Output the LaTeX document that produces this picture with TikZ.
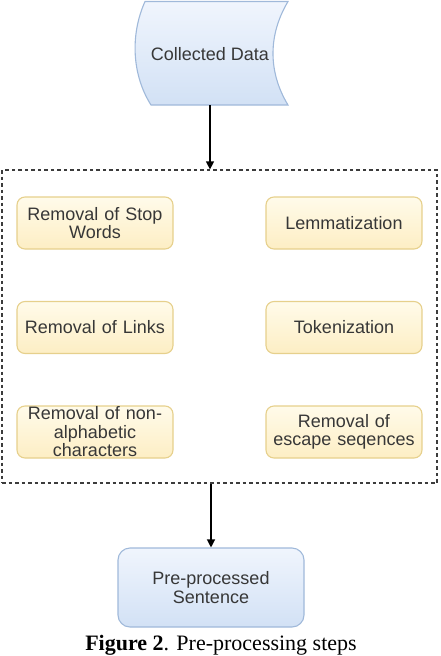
\documentclass[tikz,border=0pt]{standalone}
\usepackage{fontspec}
\setmainfont{Liberation Serif}
\newfontfamily\diafont{Liberation Sans}
\usetikzlibrary{arrows.meta}
\definecolor{txtgray}{RGB}{55,55,55}
\definecolor{bluetop}{RGB}{240,245,253}
\definecolor{bluebot}{RGB}{210,225,245}
\definecolor{bluestroke}{RGB}{160,185,218}
\definecolor{yeltop}{RGB}{255,251,234}
\definecolor{yelbot}{RGB}{253,238,196}
\definecolor{yelstroke}{RGB}{230,208,140}
\definecolor{framegray}{RGB}{60,60,60}
\tikzset{
  diatext/.style={font=\diafont\fontsize{18}{18.5}\selectfont, text=txtgray, align=center},
  stepbox/.style={diatext, draw=yelstroke, line width=1.1pt, rounded corners=8pt,
    top color=yeltop, bottom color=yelbot, minimum width=156pt, minimum height=52pt,
    inner sep=0pt, text width=154pt},
  endbox/.style={diatext, draw=bluestroke, line width=1.1pt, rounded corners=12pt,
    top color=bluetop, bottom color=bluebot, minimum width=186pt, minimum height=79pt,
    inner sep=0pt},
  framebox/.style={draw=framegray, dashed, dash pattern=on 3.5pt off 3pt, line width=1.2pt,
    minimum width=435pt, minimum height=313pt, inner sep=0pt},
  flow/.style={-{Triangle[width=8pt,length=8pt]}, line width=1.2pt, black},
}
\begin{document}
\begin{tikzpicture}[x=1pt,y=-1pt]
\useasboundingbox (0,0) rectangle (440,656);
% Collected Data shape
\shade[top color=bluetop, bottom color=bluebot, draw=bluestroke, line width=1.1pt]
  (145,1.5) .. controls (130,35) and (132,75) .. (151,105)
  -- (288,105) .. controls (268,72) and (268,35) .. (288,1.5) -- cycle;
\node[diatext] (cd) at (210,54) {Collected Data};
\coordinate (cdb) at (210,105);
% frame
\node[framebox] (frame) at (219.5,326.5) {};
% step boxes
\node[stepbox] (stop) at (95,223) {Removal of Stop\\Words};
\node[stepbox] (lem) at (344,223) {Lemmatization};
\node[stepbox] (links) at (95,327.5) {Removal of Links};
\node[stepbox] (tok) at (344,327.5) {Tokenization};
\node[stepbox] (nonalpha) at (95,432) {Removal of non-\\alphabetic\\characters};
\node[stepbox] (esc) at (344,432) {Removal of\\escape seqences};
% end box
\node[endbox] (pp) at (211,587.5) {Pre-processed\\Sentence};
% arrows
\draw[flow] (cdb) -- (cdb |- frame.north);
\draw[flow] (frame.south -| pp.north) -- (pp.north);
% caption
\node[anchor=base, font=\fontsize{22}{24}\selectfont, inner sep=0pt] (cap) at (221,650)
  {\textbf{Figure 2}. Pre-processing steps};
\end{tikzpicture}
\end{document}
